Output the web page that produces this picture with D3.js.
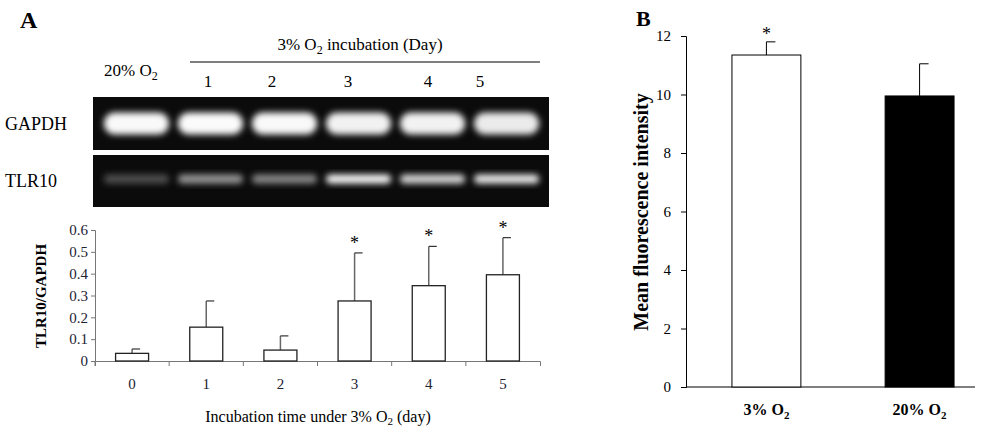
<!DOCTYPE html>
<html><head><meta charset="utf-8">
<script src="https://cdn.jsdelivr.net/npm/d3@7"></script>
<style>body{margin:0;background:#fff}text{font-family:"Liberation Serif","Times New Roman",serif}</style>
</head><body>
<script>
// panel A bar chart
var days = ["0","1","2","3","4","5"];
var ratio = [0.035, 0.155, 0.05, 0.275, 0.345, 0.395];
var ratioErr = [0.02, 0.12, 0.065, 0.22, 0.18, 0.17];
var ratioStar = [false, false, false, true, true, true];
var ratioTicks = [0, 0.1, 0.2, 0.3, 0.4, 0.5, 0.6];
// gel band brightness per lane (0..1)
var lanes = ["20% O2", "1", "2", "3", "4", "5"];
var gapdhBand = [0.95, 0.97, 0.95, 0.9, 0.9, 0.85];
var tlrBand = [0.25, 0.5, 0.45, 0.95, 0.75, 0.85];
// panel B
var groups = ["3%", "20%"];
var mfi = [11.35, 9.95];
var mfiErr = [0.45, 1.1];
var mfiStar = [true, false];
var mfiTicks = [0, 2, 4, 6, 8, 10, 12];

var svg = d3.select("body").append("svg").attr("width", 1000).attr("height", 432);

var defs = svg.append("defs");
defs.append("filter").attr("id", "blur").attr("x", "-30%").attr("y", "-60%").attr("width", "160%").attr("height", "220%")
    .append("feGaussianBlur").attr("stdDeviation", 3);

//panel letters
svg.append("text").attr("x", 20).attr("y", 28).attr("font-size", 24).attr("font-weight", "bold").text("A");
svg.append("text").attr("x", 636).attr("y", 26).attr("font-size", 22).attr("font-weight", "bold").text("B");

//gel
var gx = d3.scaleBand().domain(lanes).range([95, 548]).padding(0.12);
var gels = [{name: "GAPDH", y: 97, h: 53, vals: gapdhBand, bh: 22, off: 0},
            {name: "TLR10", y: 155, h: 52, vals: tlrBand, bh: 9, off: -2}];
gels.forEach(function(g){
    svg.append("rect").attr("x", 93).attr("y", g.y).attr("width", 456).attr("height", g.h).attr("fill", "#0b0b0b");
    svg.append("text").attr("x", 5).attr("y", g.y + g.h/2 + 6).attr("font-size", 18).text(g.name);
    svg.selectAll(null).data(g.vals).enter().append("rect")
        .attr("x", function(d, i){ return gx(lanes[i]); })
        .attr("y", g.y + g.h/2 - g.bh/2 + g.off)
        .attr("width", gx.bandwidth())
        .attr("height", g.bh)
        .attr("rx", g.bh/2)
        .attr("fill", function(d){ return d3.interpolateGreys(1 - d); })
        .attr("filter", "url(#blur)");
});
svg.append("text").attr("x", 104).attr("y", 76).attr("font-size", 17).html('20% O<tspan dy="4" font-size="12">2</tspan>');
svg.append("text").attr("x", 360).attr("y", 50).attr("text-anchor", "middle").attr("font-size", 17)
    .html('3% O<tspan dy="4" font-size="12">2</tspan><tspan dy="-4">  incubation (Day)</tspan>');
svg.append("line").attr("x1", 190).attr("x2", 540).attr("y1", 62).attr("y2", 62).attr("stroke", "#000");
var dayLabelX = [208, 272, 348, 428, 480];
svg.selectAll(null).data(lanes.slice(1)).enter().append("text")
    .attr("x", function(d, i){ return dayLabelX[i]; }).attr("y", 87).attr("text-anchor", "middle").attr("font-size", 17).text(function(d){ return d; });

//A chart
var ax = d3.scaleBand().domain(days).range([95, 540]);
var ay = d3.scaleLinear().domain([0, 0.6]).range([361, 230]);
function styleAxis(g){
    g.selectAll("text").attr("font-size", 15).attr("fill", "#223").attr("font-family", "Liberation Serif");
    g.select(".domain").attr("stroke", "#777");
    g.selectAll("line").attr("stroke", "#777");
}
var ga = svg.append("g");
ga.append("g").attr("transform", "translate(95,0)")
    .call(d3.axisLeft(ay).tickValues(ratioTicks).tickSize(4).tickFormat(function(d){ return d === 0 ? "0" : d3.format(".1f")(d); }))
    .call(styleAxis);
ga.append("g").attr("transform", "translate(0,361)")
    .call(d3.axisBottom(ax).tickSize(5).tickPadding(12))
    .call(function(g){ g.selectAll(".tick line").attr("transform", "translate(" + (-ax.bandwidth()/2) + ",0)"); styleAxis(g); });
var bw = 33;
ga.selectAll(null).data(ratio).enter().append("line")
    .attr("x1", function(d, i){ return ax(days[i]) + ax.bandwidth()/2; })
    .attr("x2", function(d, i){ return ax(days[i]) + ax.bandwidth()/2; })
    .attr("y1", function(d){ return ay(d); })
    .attr("y2", function(d, i){ return ay(d + ratioErr[i]); }).attr("stroke", "#666").attr("stroke-width", 1.5);
ga.selectAll(null).data(ratio).enter().append("line")
    .attr("x1", function(d, i){ return ax(days[i]) + ax.bandwidth()/2; })
    .attr("x2", function(d, i){ return ax(days[i]) + ax.bandwidth()/2 + 8; })
    .attr("y1", function(d, i){ return ay(d + ratioErr[i]); })
    .attr("y2", function(d, i){ return ay(d + ratioErr[i]); }).attr("stroke", "#333").attr("stroke-width", 1.2);
ga.selectAll(null).data(ratio).enter().append("rect")
    .attr("x", function(d, i){ return ax(days[i]) + ax.bandwidth()/2 - bw/2; })
    .attr("y", function(d){ return ay(d); })
    .attr("width", bw).attr("height", function(d){ return 361 - ay(d); })
    .attr("fill", "#fff").attr("stroke", "#222").attr("stroke-width", 1.3);
ga.selectAll(null).data(days.filter(function(d, i){ return ratioStar[i]; })).enter().append("text")
    .attr("x", function(d){ return ax(d) + ax.bandwidth()/2; })
    .attr("y", function(d){ var i = days.indexOf(d); return ay(ratio[i] + ratioErr[i]) - 4; })
    .attr("text-anchor", "middle").attr("font-size", 18).text("*");
svg.append("text").attr("transform", "translate(46,296) rotate(-90)").attr("text-anchor", "middle")
    .attr("font-size", 15).attr("font-weight", "bold").text("TLR10/GAPDH");
svg.append("text").attr("x", 318).attr("y", 422).attr("text-anchor", "middle").attr("font-size", 16)
    .html('Incubation time under 3% O<tspan dy="3" font-size="11">2</tspan><tspan dy="-3"> (day)</tspan>');

//B chart
var bx = d3.scaleBand().domain(groups).range([686, 1000]).padding(0.55).paddingOuter(0.3);
var by = d3.scaleLinear().domain([0, 12]).range([387, 36]);
var gb = svg.append("g");
gb.append("g").attr("transform", "translate(686,0)")
    .call(d3.axisLeft(by).tickValues(mfiTicks).tickSize(5).tickPadding(10))
    .call(function(g){ g.selectAll("text").attr("font-size", 15).attr("font-family", "Liberation Sans").attr("fill", "#000"); });
gb.append("line").attr("x1", 686).attr("x2", 975).attr("y1", 387).attr("y2", 387).attr("stroke", "#000");
gb.selectAll(null).data(mfi).enter().append("line")
    .attr("x1", function(d, i){ return bx(groups[i]) + bx.bandwidth()/2; })
    .attr("x2", function(d, i){ return bx(groups[i]) + bx.bandwidth()/2; })
    .attr("y1", function(d){ return by(d); })
    .attr("y2", function(d, i){ return by(d + mfiErr[i]); }).attr("stroke", "#000");
gb.selectAll(null).data(mfi).enter().append("line")
    .attr("x1", function(d, i){ return bx(groups[i]) + bx.bandwidth()/2; })
    .attr("x2", function(d, i){ return bx(groups[i]) + bx.bandwidth()/2 + 9; })
    .attr("y1", function(d, i){ return by(d + mfiErr[i]); })
    .attr("y2", function(d, i){ return by(d + mfiErr[i]); }).attr("stroke", "#000");
gb.selectAll(null).data(mfi).enter().append("rect")
    .attr("x", function(d, i){ return bx(groups[i]); })
    .attr("y", function(d){ return by(d); })
    .attr("width", bx.bandwidth()).attr("height", function(d){ return 387 - by(d); })
    .attr("fill", function(d, i){ return i === 0 ? "#fff" : "#000"; }).attr("stroke", "#000");
gb.selectAll(null).data(groups.filter(function(d, i){ return mfiStar[i]; })).enter().append("text")
    .attr("x", function(d){ return bx(d) + bx.bandwidth()/2; })
    .attr("y", function(d){ var i = groups.indexOf(d); return by(mfi[i] + mfiErr[i]) - 2; })
    .attr("text-anchor", "middle").attr("font-size", 18).text("*");
gb.selectAll(null).data(groups).enter().append("text")
    .attr("x", function(d){ return bx(d) + bx.bandwidth()/2; }).attr("y", 415)
    .attr("text-anchor", "middle").attr("font-size", 16).attr("font-weight", "bold")
    .html(function(d){ return d + ' O<tspan dy="4" font-size="11">2</tspan>'; });
svg.append("text").attr("transform", "translate(648,212) rotate(-90)").attr("text-anchor", "middle")
    .attr("font-size", 20).attr("font-weight", "bold").text("Mean fluorescence intensity");
</script>
</body></html>
